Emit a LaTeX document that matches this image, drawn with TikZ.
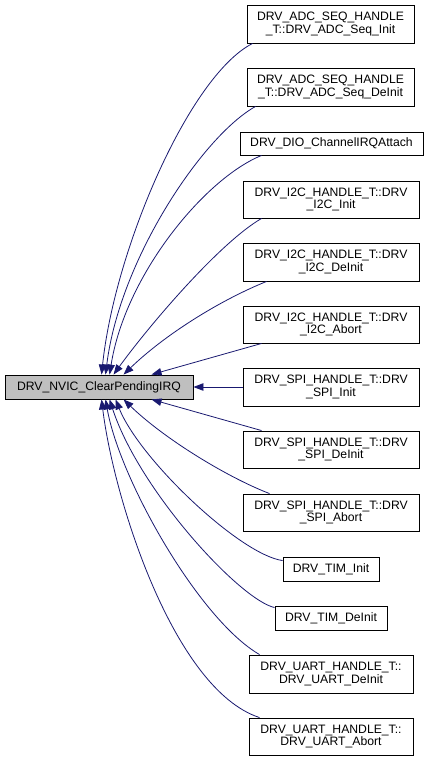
\documentclass[tikz,border=0pt]{standalone}
\usepackage{fontspec}
\setmainfont{Liberation Sans}
\usetikzlibrary{arrows.meta}
\definecolor{edgeblue}{HTML}{191970}
\definecolor{maingray}{HTML}{BFBFBF}
\tikzset{
  fn/.style={draw=black, line width=0.9pt, fill=white, inner sep=0pt, align=center,
    font=\fontsize{12.2}{12.6}\selectfont},
  callee/.style={fn, fill=maingray},
  call/.style={draw=edgeblue, line width=0.8pt, -{Triangle[length=10pt,width=7.5pt]}}
}
\begin{document}
\begin{tikzpicture}[x=1pt,y=1pt]
    \useasboundingbox (0,0) rectangle (428,-761);
    \node[callee, minimum width=188pt, minimum height=24pt] (main) at (99,-387) {DRV\_NVIC\_ClearPendingIRQ};
    \node[fn, minimum width=167pt, minimum height=38pt] (adcinit) at (330.5,-24) {DRV\_ADC\_SEQ\_HANDLE\\\_T::DRV\_ADC\_Seq\_Init};
    \node[fn, minimum width=167pt, minimum height=38pt] (adcdeinit) at (330.5,-87) {DRV\_ADC\_SEQ\_HANDLE\\\_T::DRV\_ADC\_Seq\_DeInit};
    \node[fn, minimum width=183pt, minimum height=23pt] (dio) at (331.5,-143.5) {DRV\_DIO\_ChannelIRQAttach};
    \node[fn, minimum width=176pt, minimum height=37pt] (i2cinit) at (331,-199.5) {DRV\_I2C\_HANDLE\_T::DRV\\\_I2C\_Init};
    \node[fn, minimum width=176pt, minimum height=38pt] (i2cdeinit) at (331,-262) {DRV\_I2C\_HANDLE\_T::DRV\\\_I2C\_DeInit};
    \node[fn, minimum width=176pt, minimum height=37pt] (i2cabort) at (331,-324.5) {DRV\_I2C\_HANDLE\_T::DRV\\\_I2C\_Abort};
    \node[fn, minimum width=176pt, minimum height=38pt] (spiinit) at (331,-387) {DRV\_SPI\_HANDLE\_T::DRV\\\_SPI\_Init};
    \node[fn, minimum width=176pt, minimum height=37pt] (spideinit) at (331,-449.5) {DRV\_SPI\_HANDLE\_T::DRV\\\_SPI\_DeInit};
    \node[fn, minimum width=176pt, minimum height=37pt] (spiabort) at (331,-512.5) {DRV\_SPI\_HANDLE\_T::DRV\\\_SPI\_Abort};
    \node[fn, minimum width=96pt, minimum height=24pt] (timinit) at (331,-569) {DRV\_TIM\_Init};
    \node[fn, minimum width=112pt, minimum height=24pt] (timdeinit) at (331,-618) {DRV\_TIM\_DeInit};
    \node[fn, minimum width=164pt, minimum height=38pt] (uartdeinit) at (331,-674) {DRV\_UART\_HANDLE\_T::\\DRV\_UART\_DeInit};
    \node[fn, minimum width=164pt, minimum height=37pt] (uartabort) at (331,-736.5) {DRV\_UART\_HANDLE\_T::\\DRV\_UART\_Abort};

    \draw[call] ([xshift=6pt]adcinit.south west) to[out=207,in=84,out distance=71pt,in distance=126pt] ([xshift=97pt]main.north west);
    \draw[call] ([xshift=9pt]adcdeinit.south west) to[out=209,in=83,out distance=60pt,in distance=116pt] ([xshift=101pt]main.north west);
    \draw[call] ([xshift=22pt]dio.south west) to[out=202,in=81,out distance=61pt,in distance=101pt] ([xshift=105pt]main.north west);
    \draw[call] ([xshift=19pt]i2cinit.south west) to[out=210,in=54,out distance=48pt,in distance=62pt] ([xshift=109pt]main.north west);
    \draw[call] ([xshift=24pt]i2cdeinit.south west) to[out=202,in=44,out distance=51pt,in distance=57pt] ([xshift=119pt]main.north west);
    \draw[call] ([xshift=19pt]i2cabort.south west) -- ([xshift=147pt]main.north west);
    \draw[call] (spiinit.west) -- (main.east);
    \draw[call] ([xshift=19pt]spideinit.north west) -- ([xshift=147pt]main.south west);
    \draw[call] ([xshift=27pt]spiabort.north west) to[out=159,in=316,out distance=45pt,in distance=57pt] ([xshift=119pt]main.south west);
    \draw[call] ([yshift=-4pt]timinit.north west) to[out=172,in=292,out distance=43pt,in distance=65pt] ([xshift=111pt]main.south west);
    \draw[call] ([yshift=-2pt]timdeinit.north west) to[out=167,in=288,out distance=36pt,in distance=95pt] ([xshift=105pt]main.south west);
    \draw[call] ([xshift=11pt]uartdeinit.north west) to[out=150,in=280,out distance=70pt,in distance=81pt] ([xshift=101pt]main.south west);
    \draw[call] ([xshift=11pt]uartabort.north west) to[out=162,in=277,out distance=90pt,in distance=101pt] ([xshift=97pt]main.south west);
\end{tikzpicture}
\end{document}
